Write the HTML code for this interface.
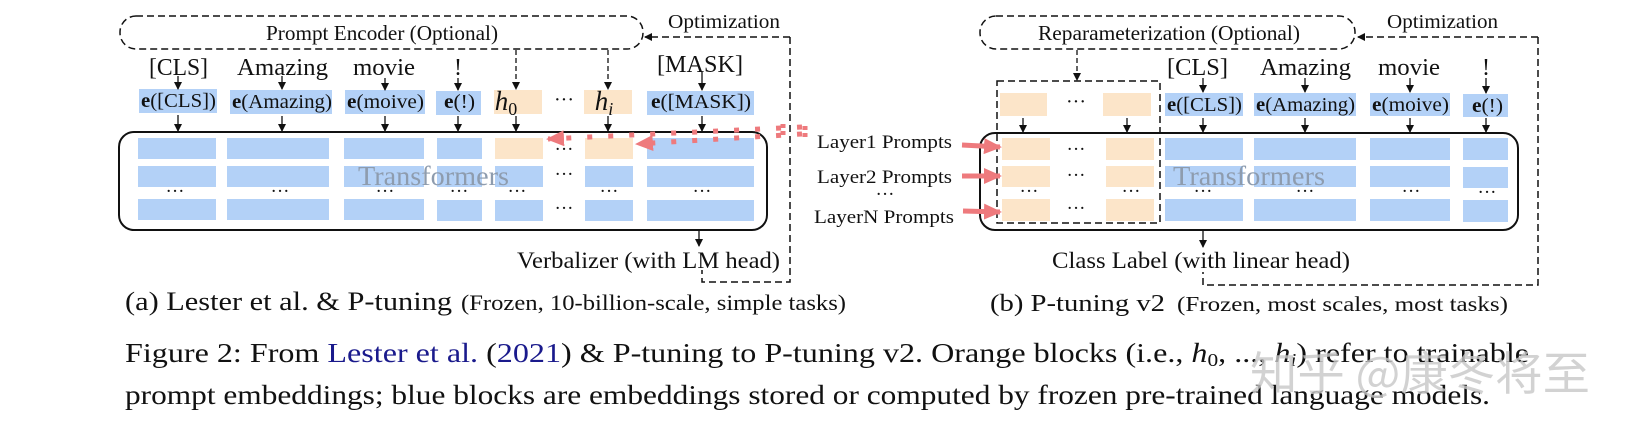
<!DOCTYPE html>
<html><head><meta charset="utf-8"><style>
html,body{margin:0;padding:0;background:#fff;}
svg{display:block;}
text{font-family:"Liberation Serif",serif;fill:#111;}
</style></head><body>
<svg width="1630" height="426" viewBox="0 0 1630 426" xmlns="http://www.w3.org/2000/svg">
<defs>
<marker id="ah" markerWidth="8" markerHeight="8" refX="7" refY="4" orient="auto" markerUnits="userSpaceOnUse"><path d="M0,0 L8,4 L0,8 z" fill="#111"/></marker>
<marker id="rh" markerWidth="18" markerHeight="16" refX="16" refY="8" orient="auto" markerUnits="userSpaceOnUse"><path d="M0,0 L18,8 L0,16 z" fill="#ee7a7d"/></marker>
</defs>

<!-- ============ LEFT PANEL ============ -->
<rect x="120" y="16" width="523" height="33" rx="16" fill="none" stroke="#111" stroke-width="1.5" stroke-dasharray="7,4"/>
<text x="266" y="40" font-size="21" textLength="232" lengthAdjust="spacingAndGlyphs">Prompt Encoder (Optional)</text>
<text x="668" y="28" font-size="20" textLength="112" lengthAdjust="spacingAndGlyphs">Optimization</text>
<path d="M790,37 L790,282 L702,282 L702,270" fill="none" stroke="#111" stroke-width="1.5" stroke-dasharray="7,4"/>
<line x1="790" y1="37" x2="645" y2="37" stroke="#111" stroke-width="1.5" stroke-dasharray="7,4" marker-end="url(#ah)"/>

<g font-size="24">
<text x="149" y="75" textLength="59" lengthAdjust="spacingAndGlyphs">[CLS]</text>
<text x="237" y="75" textLength="91" lengthAdjust="spacingAndGlyphs">Amazing</text>
<text x="353" y="75" textLength="62" lengthAdjust="spacingAndGlyphs">movie</text>
<text x="458" y="75" text-anchor="middle">!</text>
<text x="657" y="72" textLength="86" lengthAdjust="spacingAndGlyphs">[MASK]</text>
</g>
<g fill="#b3d1f7">
<rect x="139" y="89" width="78" height="24"/><rect x="230" y="90" width="102" height="24"/><rect x="345" y="90" width="80" height="24"/><rect x="436" y="91" width="45" height="24"/><rect x="647" y="91" width="107" height="24"/>
</g>
<g fill="#fce5c9"><rect x="494" y="90" width="48" height="24"/><rect x="584" y="90" width="48" height="24"/></g>
<g font-size="20">
<text x="141" y="107" textLength="75" lengthAdjust="spacingAndGlyphs"><tspan font-weight="bold">e</tspan>([CLS])</text>
<text x="232" y="108" textLength="100" lengthAdjust="spacingAndGlyphs"><tspan font-weight="bold">e</tspan>(Amazing)</text>
<text x="347" y="108" textLength="77" lengthAdjust="spacingAndGlyphs"><tspan font-weight="bold">e</tspan>(moive)</text>
<text x="444" y="108" textLength="31" lengthAdjust="spacingAndGlyphs"><tspan font-weight="bold">e</tspan>(!)</text>
<text x="651" y="108" textLength="100" lengthAdjust="spacingAndGlyphs"><tspan font-weight="bold">e</tspan>([MASK])</text>
<text x="564" y="106" text-anchor="middle">···</text>
</g>
<text x="506" y="110" font-size="27" font-style="italic" text-anchor="middle">h<tspan font-size="18" font-style="normal" dy="5">0</tspan></text>
<text x="604" y="110" font-size="27" font-style="italic" text-anchor="middle">h<tspan font-size="18" dy="5">i</tspan></text>
<g stroke="#111" stroke-width="1.3" marker-end="url(#ah)">
<line x1="178" y1="76" x2="178" y2="89"/><line x1="282" y1="76" x2="282" y2="89"/><line x1="385" y1="78" x2="385" y2="90"/><line x1="458" y1="78" x2="458" y2="90"/><line x1="702" y1="72" x2="702" y2="90"/>
<line x1="178" y1="115" x2="178" y2="131"/><line x1="282" y1="116" x2="282" y2="131"/><line x1="385" y1="116" x2="385" y2="131"/><line x1="458" y1="116" x2="458" y2="131"/><line x1="516" y1="116" x2="516" y2="131"/><line x1="608" y1="116" x2="608" y2="131"/><line x1="702" y1="116" x2="702" y2="131"/>
<line x1="699" y1="230" x2="699" y2="246"/>
</g>
<g stroke="#111" stroke-width="1.3" stroke-dasharray="5,3" marker-end="url(#ah)">
<line x1="516" y1="50" x2="516" y2="89"/><line x1="608" y1="50" x2="608" y2="89"/>
</g>
<rect x="119" y="132" width="648" height="98" rx="15" fill="none" stroke="#111" stroke-width="2"/>
<g fill="#b3d1f7">
<rect x="138" y="138" width="78" height="21"/><rect x="227" y="138" width="102" height="21"/><rect x="344" y="138" width="80" height="21"/><rect x="437" y="138" width="45" height="21"/><rect x="647" y="138" width="107" height="21"/>
<rect x="138" y="166" width="78" height="21"/><rect x="227" y="166" width="102" height="21"/><rect x="344" y="166" width="80" height="21"/><rect x="437" y="166" width="45" height="21"/><rect x="495" y="166" width="48" height="21"/><rect x="585" y="166" width="48" height="21"/><rect x="647" y="166" width="107" height="21"/>
<rect x="138" y="199" width="78" height="21"/><rect x="227" y="199" width="102" height="21"/><rect x="344" y="199" width="80" height="21"/><rect x="437" y="200" width="45" height="21"/><rect x="495" y="200" width="48" height="21"/><rect x="585" y="200" width="48" height="21"/><rect x="647" y="200" width="107" height="21"/>
</g>
<g fill="#fce5c9"><rect x="495" y="138" width="48" height="21"/><rect x="585" y="138" width="48" height="21"/></g>
<text x="358" y="185" font-size="27" textLength="151" lengthAdjust="spacingAndGlyphs" style="fill:#8e9cae">Transformers</text>
<g font-size="19" text-anchor="middle">
<text x="175" y="197">···</text><text x="280" y="197">···</text><text x="385" y="197">···</text><text x="459" y="197">···</text><text x="517" y="197">···</text><text x="609" y="197">···</text><text x="702" y="197">···</text>
<text x="564" y="155">···</text><text x="564" y="180">···</text><text x="564" y="214">···</text>
</g>
<g stroke="#ee7a7d" stroke-width="5" stroke-dasharray="5,16" fill="none">
<line x1="802" y1="127" x2="548" y2="139" marker-end="url(#rh)"/>
<line x1="802" y1="134" x2="637" y2="144" marker-end="url(#rh)"/>
<line x1="805" y1="126" x2="805" y2="140" stroke-dasharray="4,3"/>
<line x1="783" y1="124" x2="783" y2="138" stroke-dasharray="4,3"/>
</g>
<text x="517" y="268" font-size="23" textLength="263" lengthAdjust="spacingAndGlyphs">Verbalizer (with LM head)</text>
<text x="125" y="310" font-size="26" textLength="327" lengthAdjust="spacingAndGlyphs">(a) Lester et al. &amp; P-tuning</text>
<text x="461" y="310" font-size="22" textLength="385" lengthAdjust="spacingAndGlyphs">(Frozen, 10-billion-scale, simple tasks)</text>

<!-- ============ RIGHT PANEL ============ -->
<rect x="980" y="16" width="375" height="33" rx="16" fill="none" stroke="#111" stroke-width="1.5" stroke-dasharray="7,4"/>
<text x="1038" y="40" font-size="21" textLength="262" lengthAdjust="spacingAndGlyphs">Reparameterization (Optional)</text>
<text x="1387" y="28" font-size="20" textLength="111" lengthAdjust="spacingAndGlyphs">Optimization</text>
<path d="M1538,37 L1538,285 L1203,285 L1203,272" fill="none" stroke="#111" stroke-width="1.5" stroke-dasharray="7,4"/>
<line x1="1538" y1="37" x2="1358" y2="37" stroke="#111" stroke-width="1.5" stroke-dasharray="7,4" marker-end="url(#ah)"/>
<line x1="1077" y1="50" x2="1077" y2="80" stroke="#111" stroke-width="1.3" stroke-dasharray="5,3" marker-end="url(#ah)"/>
<g font-size="24">
<text x="1167" y="75" textLength="61" lengthAdjust="spacingAndGlyphs">[CLS]</text>
<text x="1260" y="75" textLength="91" lengthAdjust="spacingAndGlyphs">Amazing</text>
<text x="1378" y="75" textLength="62" lengthAdjust="spacingAndGlyphs">movie</text>
<text x="1486" y="75" text-anchor="middle">!</text>
</g>
<g fill="#b3d1f7">
<rect x="1165" y="93" width="78" height="23"/><rect x="1254" y="93" width="102" height="23"/><rect x="1370" y="93" width="80" height="23"/><rect x="1463" y="94" width="45" height="23"/>
</g>
<g fill="#fce5c9"><rect x="1000" y="93" width="47" height="23"/><rect x="1103" y="93" width="48" height="23"/></g>
<g font-size="20">
<text x="1167" y="111" textLength="75" lengthAdjust="spacingAndGlyphs"><tspan font-weight="bold">e</tspan>([CLS])</text>
<text x="1256" y="111" textLength="99" lengthAdjust="spacingAndGlyphs"><tspan font-weight="bold">e</tspan>(Amazing)</text>
<text x="1372" y="111" textLength="77" lengthAdjust="spacingAndGlyphs"><tspan font-weight="bold">e</tspan>(moive)</text>
<text x="1472" y="112" textLength="31" lengthAdjust="spacingAndGlyphs"><tspan font-weight="bold">e</tspan>(!)</text>
<text x="1076" y="108" text-anchor="middle">···</text>
</g>
<g stroke="#111" stroke-width="1.3" marker-end="url(#ah)">
<line x1="1203" y1="78" x2="1203" y2="92"/><line x1="1305" y1="78" x2="1305" y2="92"/><line x1="1410" y1="78" x2="1410" y2="92"/><line x1="1486" y1="78" x2="1486" y2="93"/>
<line x1="1203" y1="118" x2="1203" y2="132"/><line x1="1305" y1="118" x2="1305" y2="132"/><line x1="1410" y1="118" x2="1410" y2="132"/><line x1="1486" y1="118" x2="1486" y2="132"/>
<line x1="1023" y1="118" x2="1023" y2="132"/><line x1="1127" y1="118" x2="1127" y2="132"/>
<line x1="1203" y1="230" x2="1203" y2="247"/>
</g>
<rect x="980" y="133" width="538" height="97" rx="15" fill="none" stroke="#111" stroke-width="2"/>
<rect x="997" y="81" width="163" height="142" fill="none" stroke="#111" stroke-width="1.5" stroke-dasharray="7,4"/>
<g fill="#fce5c9">
<rect x="1002" y="138" width="48" height="22"/><rect x="1106" y="138" width="48" height="22"/>
<rect x="1002" y="166" width="48" height="21"/><rect x="1106" y="166" width="48" height="21"/>
<rect x="1002" y="199" width="48" height="22"/><rect x="1106" y="199" width="48" height="22"/>
</g>
<g fill="#b3d1f7">
<rect x="1165" y="138" width="78" height="22"/><rect x="1254" y="138" width="102" height="22"/><rect x="1370" y="138" width="80" height="22"/><rect x="1463" y="138" width="45" height="22"/>
<rect x="1165" y="166" width="78" height="21"/><rect x="1254" y="166" width="102" height="21"/><rect x="1370" y="166" width="80" height="21"/><rect x="1463" y="167" width="45" height="21"/>
<rect x="1165" y="199" width="78" height="22"/><rect x="1254" y="199" width="102" height="22"/><rect x="1370" y="199" width="80" height="22"/><rect x="1463" y="200" width="45" height="22"/>
</g>
<text x="1173" y="185" font-size="27" textLength="152" lengthAdjust="spacingAndGlyphs" style="fill:#8e9cae">Transformers</text>
<g font-size="19" text-anchor="middle">
<text x="1076" y="155">···</text><text x="1076" y="181">···</text><text x="1076" y="214">···</text>
<text x="1029" y="197">···</text><text x="1131" y="197">···</text><text x="1203" y="197">···</text><text x="1305" y="197">···</text><text x="1411" y="197">···</text><text x="1487" y="198">···</text>
</g>
<g font-size="19">
<text x="817" y="148" textLength="135" lengthAdjust="spacingAndGlyphs">Layer1 Prompts</text>
<text x="817" y="183" textLength="135" lengthAdjust="spacingAndGlyphs">Layer2 Prompts</text>
<text x="885" y="200" text-anchor="middle">···</text>
<text x="814" y="223" textLength="140" lengthAdjust="spacingAndGlyphs">LayerN Prompts</text>
</g>
<g stroke="#ee7a7d" stroke-width="5" marker-end="url(#rh)">
<line x1="962" y1="145" x2="1000" y2="147"/><line x1="962" y1="176" x2="1000" y2="176"/><line x1="963" y1="211" x2="1000" y2="212"/>
</g>
<text x="1052" y="268" font-size="23" textLength="298" lengthAdjust="spacingAndGlyphs">Class Label (with linear head)</text>
<text x="990" y="311" font-size="24" textLength="175" lengthAdjust="spacingAndGlyphs">(b) P-tuning v2</text>
<text x="1177" y="311" font-size="21" textLength="331" lengthAdjust="spacingAndGlyphs">(Frozen, most scales, most tasks)</text>

<!-- caption -->
<text x="125" y="362" font-size="27" textLength="1404" lengthAdjust="spacingAndGlyphs">Figure 2: From <tspan style="fill:#1a1a8c">Lester et al.</tspan> (<tspan style="fill:#1a1a8c">2021</tspan>) &amp; P-tuning to P-tuning v2. Orange blocks (i.e., <tspan font-style="italic">h</tspan><tspan font-size="18" dy="4">0</tspan><tspan dy="-4">, ..., </tspan><tspan font-style="italic">h</tspan><tspan font-size="18" font-style="italic" dy="4">i</tspan><tspan dy="-4">) refer to trainable</tspan></text>
<text x="125" y="404" font-size="27" textLength="1365" lengthAdjust="spacingAndGlyphs">prompt embeddings; blue blocks are embeddings stored or computed by frozen pre-trained language models.</text>
<text x="1250" y="390" font-size="46" textLength="340" lengthAdjust="spacingAndGlyphs" style="fill:#c8c8c8;opacity:0.8;font-family:'Noto Sans CJK SC',sans-serif">知乎 @康冬将至</text>
</svg>
</body></html>
